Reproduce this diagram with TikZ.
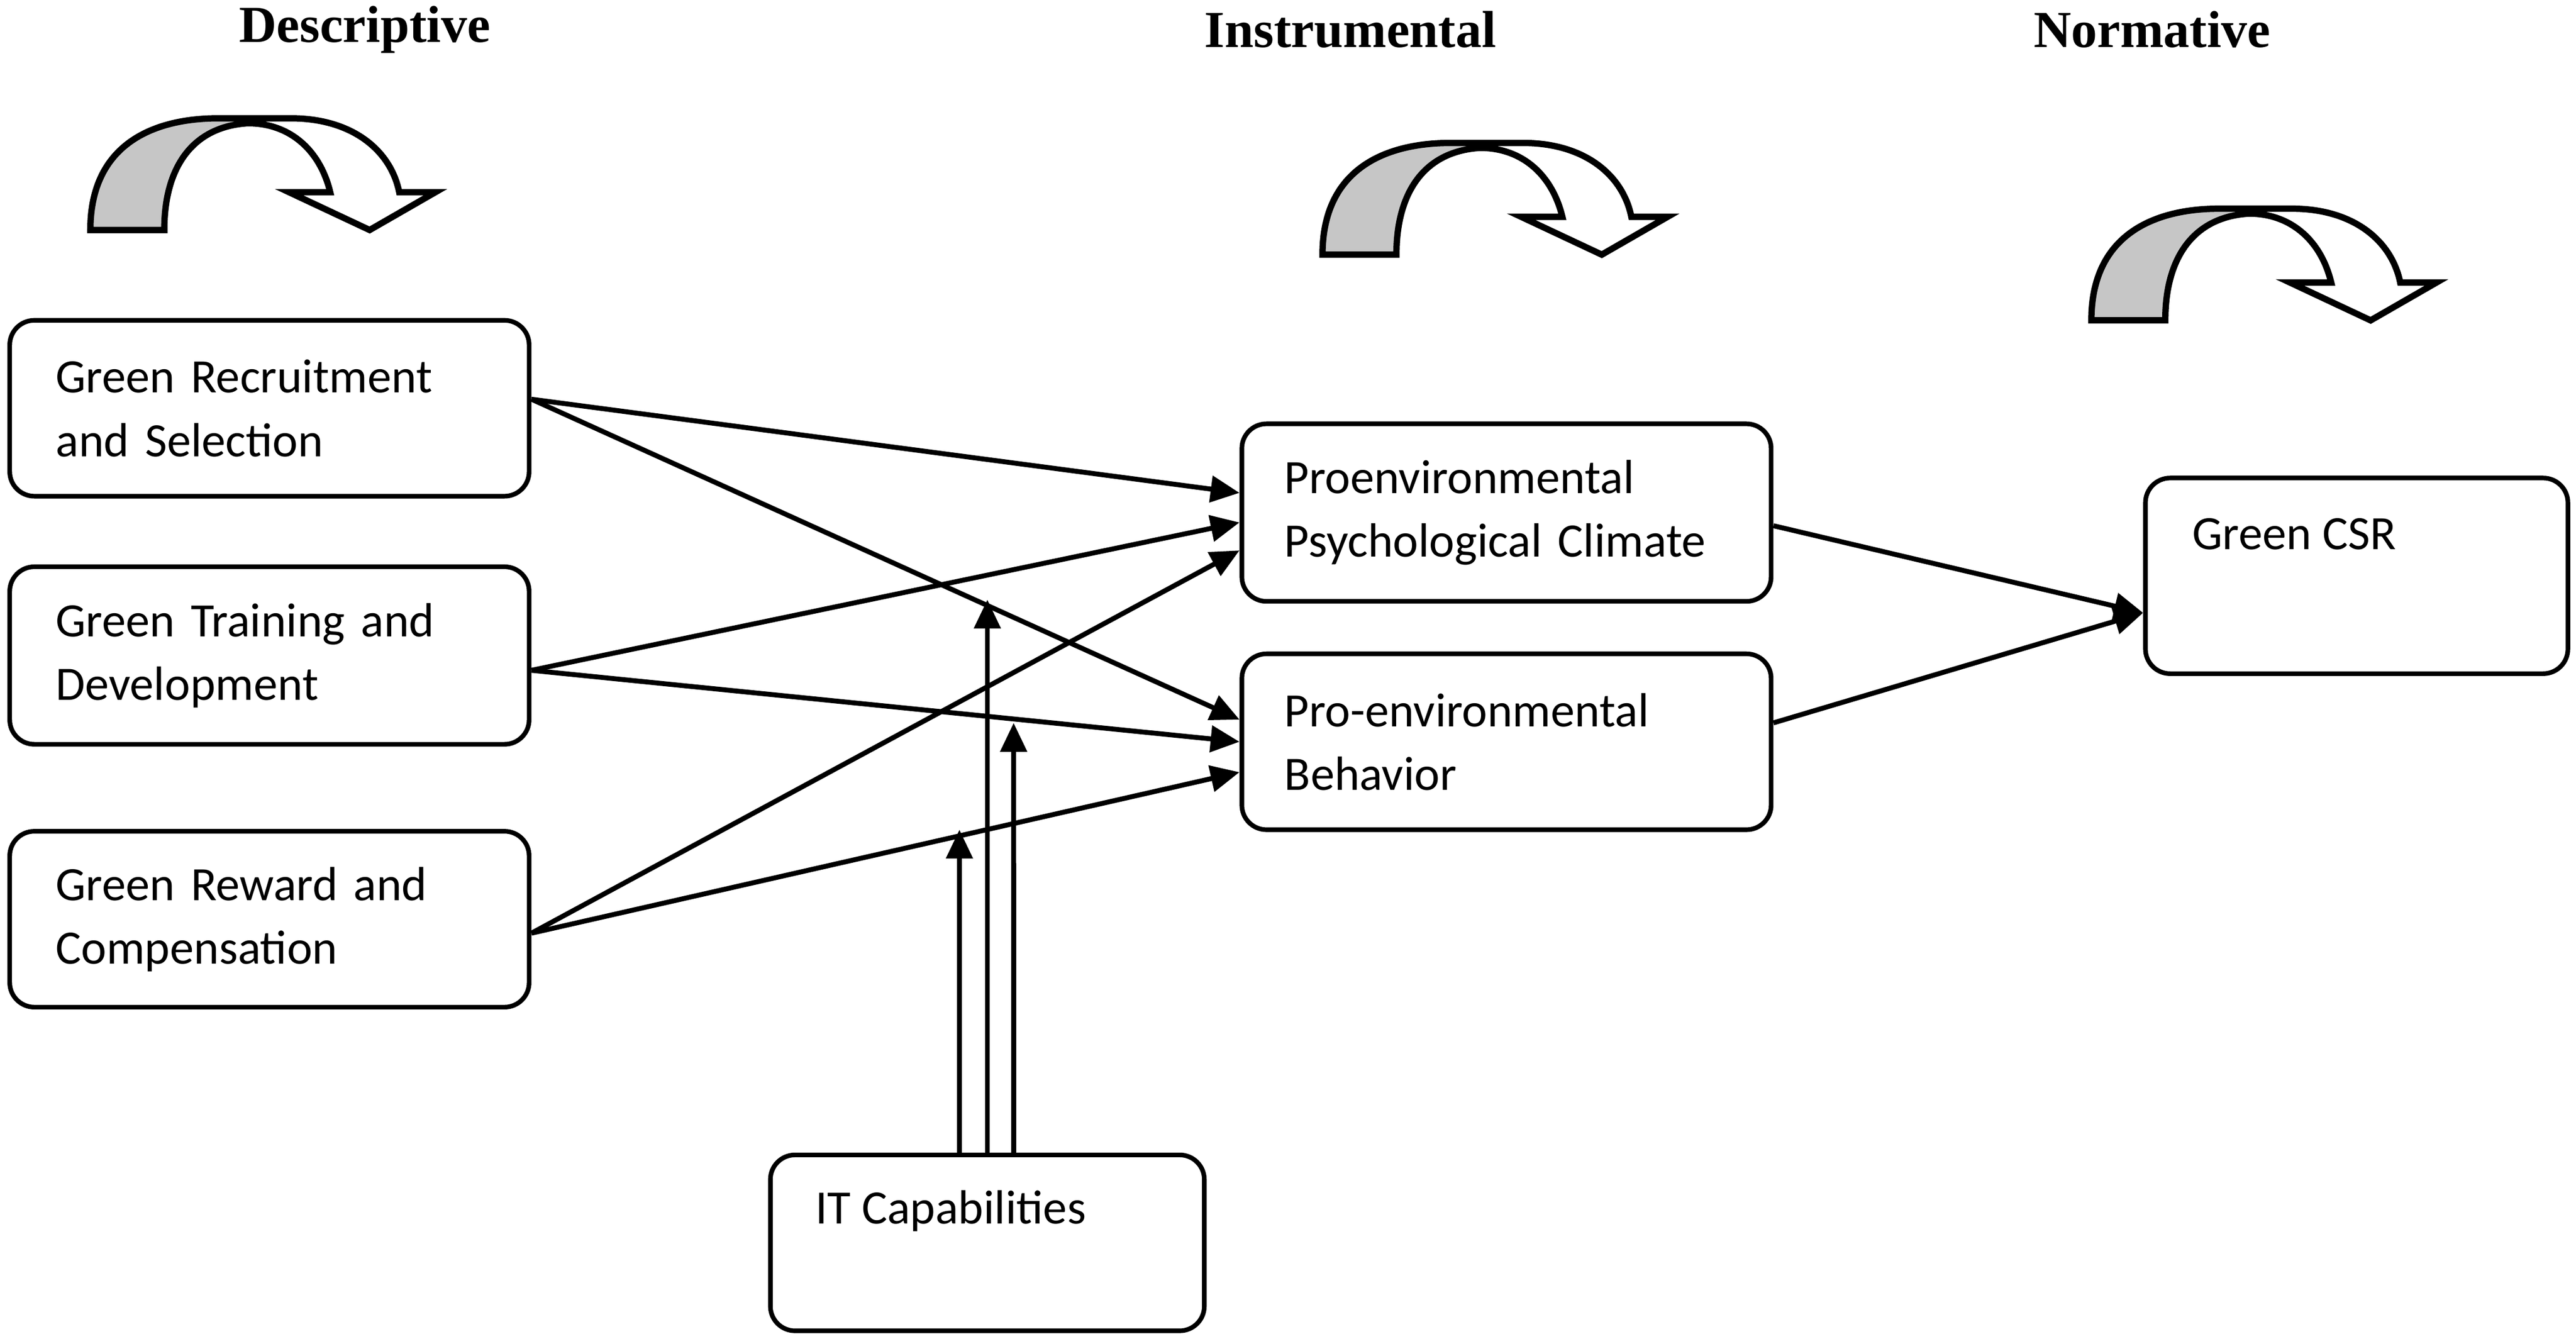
\documentclass[tikz,border=0pt]{standalone}
\usepackage{fontspec}
\setmainfont{Carlito}
\newfontfamily\hdr{Liberation Serif}
\usetikzlibrary{arrows.meta}
\begin{document}
\begin{tikzpicture}[x=0.01cm,y=-0.01cm,
 box/.style={draw,line width=0.8pt,rounded corners=0.15cm,align=left,font=\fontsize{8.3}{11}\selectfont,inner xsep=0.25cm},
 hd/.style={font=\hdr\bfseries\fontsize{9}{11}\selectfont},
 ar/.style={line width=0.85pt,-{Triangle[length=5pt,width=4.5pt]}},
 bent/.style={line width=1.1pt}]
\useasboundingbox (0,0) rectangle (1568,815);
\newcommand{\bentarrow}[1]{%
 \begin{scope}[shift={#1},y=0.01cm,x=0.01cm]
  \fill[gray!45] (0,0) .. controls (0,52) and (38,68) .. (78,68) -- (100,68) -- (96,65) .. controls (62,63) and (45,38) .. (45,0) -- cycle;
  \draw[bent,line join=miter] (0,0) .. controls (0,52) and (38,68) .. (78,68) -- (122,68) .. controls (160,68) and (183,48) .. (188,23) -- (210,23) -- (170,0) -- (121,23) -- (146,23) .. controls (140,48) and (122,65) .. (96,65) .. controls (62,63) and (45,38) .. (45,0) -- cycle;
  \draw[bent] (96,65) -- (100,68);
 \end{scope}}
\bentarrow{(55,140)}
\bentarrow{(805,155)}
\bentarrow{(1273,195)}
\node[hd] (h1) at (222,18) {Descriptive};
\node[hd] (h2) at (822,18) {Instrumental};
\node[hd] (h3) at (1310,18) {Normative};
\node[box,minimum width=3.16cm,minimum height=1.07cm,text width=2.6cm] (grs) at (164,248.5) {Green Recruitment\\and Selection};
\node[box,minimum width=3.16cm,minimum height=1.08cm,text width=2.6cm] (gtd) at (164,399) {Green Training and\\Development};
\node[box,minimum width=3.16cm,minimum height=1.07cm,text width=2.6cm] (grc) at (164,559.5) {Green Reward and\\Compensation};
\node[box,minimum width=3.22cm,minimum height=1.08cm,text width=2.7cm] (ppc) at (917,312) {Proenvironmental\\Psychological Climate};
\node[box,minimum width=3.22cm,minimum height=1.07cm,text width=2.7cm] (peb) at (917,451.5) {Pro-environmental\\Behavior};
\node[box,minimum width=2.57cm,minimum height=1.19cm] (csr) at (1434.5,350.5) {};
\node[font=\fontsize{8.3}{11}\selectfont,anchor=west] (csrt) at (1322,325) {Green CSR};
\node[box,minimum width=2.64cm,minimum height=1.07cm] (it) at (601,756.5) {};
\node[font=\fontsize{8.3}{11}\selectfont,anchor=west] (itt) at (484,737) {IT Capabilities};
\draw[ar] ([yshift=0.055cm]grs.east) -- ([yshift=0.12cm]ppc.west);
\draw[ar] ([yshift=0.055cm]grs.east) -- ([yshift=0.135cm]peb.west);
\draw[ar] ([yshift=-0.09cm]gtd.east) -- ([yshift=-0.06cm]ppc.west);
\draw[ar] ([yshift=-0.09cm]gtd.east) -- ([yshift=0cm]peb.west);
\draw[ar] ([yshift=-0.085cm]grc.east) -- ([yshift=-0.23cm]ppc.west);
\draw[ar] ([yshift=-0.085cm]grc.east) -- ([yshift=-0.185cm]peb.west);
\draw[ar] ([yshift=-0.08cm]ppc.east) -- ([yshift=-0.225cm]csr.west);
\draw[ar] ([yshift=0.115cm]peb.east) -- ([yshift=-0.225cm]csr.west);
\coordinate (m1) at (584,505);
\coordinate (m2) at (601,365);
\coordinate (m3) at (617,440);
\draw[ar] ([xshift=-0.17cm]it.north) -- (m1);
\draw[ar] (it.north) -- (m2);
\draw[ar] ([xshift=0.16cm]it.north) -- (m3);
\end{tikzpicture}
\end{document}
